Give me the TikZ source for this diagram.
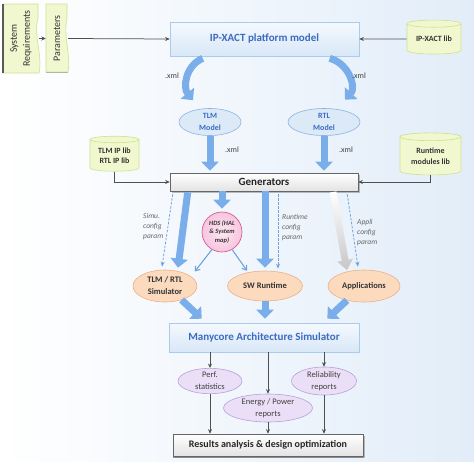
\documentclass[tikz,border=0pt]{standalone}
\usepackage{fontspec}
\setmainfont{Carlito}
\usetikzlibrary{shapes.geometric,arrows.meta,calc,shadows}
\definecolor{txtblue}{HTML}{3A6CC0}
\definecolor{boxborder}{HTML}{A9CBEC}
\definecolor{boxtop}{HTML}{F5F9FE}
\definecolor{boxbot}{HTML}{D8E7F7}
\definecolor{cylfill}{HTML}{F1F8D0}
\definecolor{cylborder}{HTML}{CFE08E}
\definecolor{modfill}{HTML}{DCEAF8}
\definecolor{modborder}{HTML}{8DB3E2}
\definecolor{peach}{HTML}{FBDABD}
\definecolor{peachb}{HTML}{EDB088}
\definecolor{pinkf}{HTML}{F8C4DF}
\definecolor{pinkb}{HTML}{D0508A}
\definecolor{lavf}{HTML}{EADFF6}
\definecolor{lavb}{HTML}{B6A2D8}
\definecolor{fatblue}{HTML}{7AAEEA}
\definecolor{dashblue}{HTML}{6FA3E0}
\definecolor{linegray}{HTML}{505050}
\definecolor{bgblue}{HTML}{E2EDF9}
\begin{document}
\begin{tikzpicture}[x=1pt,y=-1pt,
  every node/.style={inner sep=0pt, align=center},
  conn/.style={draw=linegray, line width=0.75pt, -{Stealth[length=4.5pt,width=4pt]}},
  fat/.style={draw=fatblue, line width=7pt, -{Triangle[length=9pt,width=17pt]}},
  dasharrow/.style={draw=dashblue, line width=0.8pt, dash pattern=on 2.5pt off 1.5pt, -{Stealth[length=5pt,width=4pt]}},
  hdsarrow/.style={draw=dashblue, line width=1.1pt, -{Straight Barb[length=4pt,width=6pt]}},
  bluebox/.style={rectangle, draw=boxborder, line width=0.6pt, top color=boxtop, bottom color=boxbot, text=txtblue, font=\bfseries\fontsize{11}{13}\selectfont, drop shadow={shadow xshift=1pt,shadow yshift=-1pt,opacity=0.2}},
  graybox/.style={rectangle, draw=gray!80!black, line width=0.6pt, top color=white, bottom color=gray!22, font=\bfseries\fontsize{11}{13}\selectfont, text=black!85, drop shadow={shadow xshift=1.5pt,shadow yshift=-1.5pt,opacity=0.5}},
  cyl/.style={cylinder, shape border rotate=90, aspect=0.2, draw=cylborder, line width=0.6pt, fill=cylfill, font=\bfseries\fontsize{8}{10.5}\selectfont, text=black!80},
  docnode/.style={font=\fontsize{10}{13}\selectfont, text=black!80},
  model/.style={ellipse, draw=modborder, line width=0.6pt, fill=modfill, text=txtblue, font=\bfseries\fontsize{8}{11.5}\selectfont},
  simnode/.style={ellipse, draw=peachb, line width=0.6pt, fill=peach, text=black!80, font=\bfseries\fontsize{8.5}{12}\selectfont},
  repnode/.style={ellipse, draw=lavb, line width=0.6pt, fill=lavf, text=black!75, font=\fontsize{8.5}{12}\selectfont},
  lbl/.style={font=\fontsize{8}{10}\selectfont, text=black!75},
  ilbl/.style={font=\itshape\fontsize{7.5}{10}\selectfont, text=black!60, align=left, anchor=west},
]
\shade[left color=white, right color=bgblue] (0,0) rectangle (474,461);
\path[use as bounding box] (0,0) rectangle (474,461);

% document shapes
\draw[cylborder, fill=cylfill, line width=0.6pt] (3,4) -- (38,4) -- (38,18) .. controls (33,36) and (43,55) .. (39,73) -- (3,73) -- cycle;
\draw[gray!70!black, line width=1.2pt] (3,4) -- (3,73);
\draw[cylborder, fill=cylfill, line width=0.6pt] (46,4) -- (67,4) -- (67,18) .. controls (63,36) and (71,55) .. (68,72) -- (46,72) -- cycle;
\draw[gray!60, line width=0.6pt] (46,72) -- (68,72);
\node[docnode, rotate=90, minimum width=69, minimum height=36] (sysreq) at (21,38.5) {System\\Requirements};
\node[docnode, rotate=90, minimum width=68, minimum height=22] (params) at (57,38.5) {Parameters};

\node[bluebox, minimum width=189, minimum height=34] (ipx) at (264.5,39) {IP-XACT platform model};
\node[cyl, minimum width=54, minimum height=34] (ipxlib) at (434,39) {IP-XACT lib};

\node[model, minimum width=62, minimum height=27] (tlm) at (210,122) {TLM\\Model};
\node[model, minimum width=72, minimum height=27] (rtl) at (324,122) {RTL\\Model};

\node[cyl, minimum width=49, minimum height=35] (tlmlib) at (114.5,155.5) {TLM IP lib\\RTL IP lib};
\node[cyl, minimum width=61, minimum height=42] (rtlib) at (430.5,156) {Runtime\\modules lib};

\node[graybox, minimum width=188, minimum height=18] (gen) at (264,182) {Generators};

\node[circle, draw=pinkb, line width=0.6pt, inner color=white!60!pinkf, outer color=pinkf, minimum size=40, font=\bfseries\itshape\fontsize{6.5}{8.5}\selectfont, text=black!80] (hds) at (222,232) {HDS (HAL\\\& System\\map)};

\node[simnode, minimum width=64, minimum height=32] (tlmsim) at (165,286) {TLM / RTL\\Simulator};
\node[simnode, minimum width=75, minimum height=30] (swrt) at (265,286) {SW Runtime};
\node[simnode, minimum width=72, minimum height=32] (apps) at (364,286) {Applications};

\node[bluebox, minimum width=190, minimum height=29] (many) at (264,337.5) {Manycore Architecture Simulator};

\node[repnode, minimum width=64, minimum height=25] (perf) at (210,381) {Perf.\\statistics};
\node[repnode, minimum width=89, minimum height=28] (energy) at (268,408) {Energy / Power\\reports};
\node[repnode, minimum width=65, minimum height=28] (relia) at (324,381) {Reliability\\reports};

\node[graybox, drop shadow={shadow xshift=0pt,shadow yshift=-2pt,opacity=0.8}, minimum width=190, minimum height=22, font=\bfseries\fontsize{10}{12}\selectfont] (res) at (268,445) {Results analysis \& design optimization};

% top connectors
\draw[conn] (sysreq.south) -- (params.north);
\draw[conn] (params.south) -- (ipx.west);
\draw[conn] (ipxlib.west) -- (ipx.east);

% curved fat arrows
\draw[fat] ($(ipx.south west)+(33,2)$) .. controls (185,66) and (183,88) .. ($(tlm.north)+(-17,-8)$);
\draw[fat] ($(ipx.south west)+(160,2)$) .. controls (350,64) and (356,88) .. ($(rtl.north)+(21,-8.5)$);
\node[lbl] (x1) at (172,76) {.xml};
\node[lbl] (x2) at (359,76) {.xml};

% models to generators
\draw[fat] (tlm.south) -- ($(tlm.south |- gen.north)+(0,-2)$);
\draw[fat] (rtl.south) -- ($(rtl.south |- gen.north)+(0,-2)$);
\node[lbl] (x3) at (232,150) {.xml};
\node[lbl] (x4) at (346,150) {.xml};

\draw[conn] (tlmlib.south) |- (gen.west);
\draw[conn] (rtlib.south) |- (gen.east);

% generators outputs
\draw[dasharrow] ($(gen.south west)+(3,3)$) -- ($(tlmsim.north)+(-3,-3)$);
\draw[fat] ($(gen.south west)+(18,1)$) -- ($(tlmsim.north)+(13,-2)$);
\draw[fat] (gen.south -| hds.north) -- ($(hds.north)+(0,-3)$);
\draw[hdsarrow] (hds.-120) -- ($(tlmsim.north east)+(7,-3)$);
\draw[hdsarrow] (hds.-60) -- ($(swrt.north)+(-18,0)$);
\draw[fat] (gen.south -| swrt.north) -- ($(swrt.north)+(0,-3)$);
\draw[dasharrow] ($(gen.south -| swrt.north)+(13,3)$) -- ($(swrt.north)+(13,-2)$);
\shade[top color=white, bottom color=black!22] (329.6,192.6) -- (336.4,191.4) -- (348.5,259.6) -- (353,258.7) -- (347,270) -- (337.2,261.7) -- (341.7,260.8) -- cycle;
\draw[dasharrow] ($(gen.south east)+(-11,3)$) -- ($(apps.north)+(-6,-3)$);

\node[ilbl] (l1) at (143,227) {Simu.\\config\\param};
\node[ilbl] (l2) at (282,228) {Runtime\\config\\param};
\node[ilbl] (l3) at (357,232) {Appli\\config\\param};

% to manycore
\draw[fat] (tlmsim.-40) -- ($(many.north west)+(33,-4)$);
\draw[fat] (swrt.south) -- ($(many.north -| swrt.south)+(0,-4)$);
\draw[fat] (apps.-140) -- ($(many.north east)+(-32,-4)$);

% reports
\draw[conn] (many.south -| perf.north) -- (perf.north);
\draw[conn] (many.south -| energy.north) -- (energy.north);
\draw[conn] (many.south -| relia.north) -- (relia.north);
\draw[conn] (perf.south) -- (perf.south |- res.north);
\draw[conn] (energy.south) -- (energy.south |- res.north);
\draw[conn] (relia.south) -- (relia.south |- res.north);
\end{tikzpicture}
\end{document}
